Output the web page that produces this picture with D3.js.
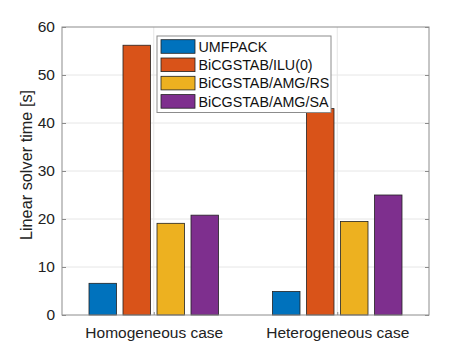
<!DOCTYPE html>
<html><head><meta charset="utf-8">
<script src="https://cdn.jsdelivr.net/npm/d3@7"></script>
<style>
html,body{margin:0;padding:0;background:#fff;}
text{font-family:"Liberation Sans",Arial,sans-serif;}
</style></head>
<body>
<svg id="c" width="474" height="355"></svg>
<script>
const categories = ["Homogeneous case", "Heterogeneous case"];
const seriesNames = ["UMFPACK", "BiCGSTAB/ILU(0)", "BiCGSTAB/AMG/RS", "BiCGSTAB/AMG/SA"];
const umfpack = [6.6, 4.9];
const ilu = [56.2, 43.0];
const amgRS = [19.1, 19.5];
const amgSA = [20.8, 25.0];
const yTicks = [0, 10, 20, 30, 40, 50, 60];
const colors = ["#0072BD", "#D95319", "#EDB120", "#7E2F8E"];

const series = [umfpack, ilu, amgRS, amgSA];
const svg = d3.select("#c");
const L = 62, R = 429, T = 27, B = 315;
const x = d3.scaleLinear().domain([0.5, 2.5]).range([L, R]);
const y = d3.scaleLinear().domain([0, 60]).range([B, T]);
const barW = 27.5, step = 34;

// grid
svg.append("g").selectAll("line").data(yTicks.slice(1, -1)).join("line")
  .attr("x1", L).attr("x2", R).attr("y1", d => y(d)).attr("y2", d => y(d))
  .attr("stroke", "#e6e6e6").attr("stroke-width", 1);
svg.append("g").selectAll("line").data([1, 2]).join("line")
  .attr("x1", d => x(d)).attr("x2", d => x(d)).attr("y1", T).attr("y2", B)
  .attr("stroke", "#e6e6e6").attr("stroke-width", 1);

// bars
series.forEach((vals, si) => {
  svg.append("g").selectAll("rect").data(vals).join("rect")
    .attr("x", (d, i) => x(i + 1) + (si - 1.5) * step - barW / 2)
    .attr("y", d => y(d))
    .attr("width", barW)
    .attr("height", d => B - y(d))
    .attr("fill", colors[si])
    .attr("stroke", "#222").attr("stroke-width", 0.8);
});

// axes
const axCol = "#8c8c8c";
const yAxis = d3.axisLeft(y).tickValues(yTicks).tickSize(-4).tickPadding(7);
const gy = svg.append("g").attr("transform", `translate(${L},0)`).call(yAxis);
gy.select(".domain").remove();
gy.selectAll("line").attr("stroke", axCol);
gy.selectAll("text").attr("font-size", 15.5).attr("fill", "#222").attr("font-family", "Liberation Sans, Arial, sans-serif");
const gyr = svg.append("g").attr("transform", `translate(${R},0)`).call(d3.axisRight(y).tickValues(yTicks).tickSize(-4).tickFormat(""));
gyr.select(".domain").remove();
gyr.selectAll("line").attr("stroke", axCol);

const xAxis = d3.axisBottom(x).tickValues([1, 2]).tickFormat((d) => categories[d - 1]).tickSize(-3).tickPadding(12);
const gx = svg.append("g").attr("transform", `translate(0,${B})`).call(xAxis);
gx.select(".domain").remove();
gx.selectAll("line").attr("stroke", axCol);
gx.selectAll("text").attr("font-size", 15.5).attr("fill", "#222").attr("font-family", "Liberation Sans, Arial, sans-serif");

svg.append("rect").attr("x", L).attr("y", T).attr("width", R - L).attr("height", B - T)
  .attr("fill", "none").attr("stroke", axCol).attr("stroke-width", 1);

// y label
svg.append("text").attr("transform", `translate(32,165) rotate(-90)`)
  .attr("text-anchor", "middle").attr("font-size", 16.3).attr("fill", "#222")
  .text("Linear solver time [s]");

// legend
const lg = svg.append("g");
lg.append("rect").attr("x", 157).attr("y", 36).attr("width", 174).attr("height", 76.5)
  .attr("fill", "#fff").attr("stroke", "#8c8c8c").attr("stroke-width", 1);
seriesNames.forEach((n, i) => {
  const cy = 46.5 + i * 18.3;
  lg.append("rect").attr("x", 161).attr("y", cy - 6.8).attr("width", 34).attr("height", 13.6)
    .attr("fill", colors[i]).attr("stroke", "#222").attr("stroke-width", 0.8);
  lg.append("text").attr("x", 198.5).attr("y", cy + 5.2).attr("font-size", 14.3).attr("fill", "#111").text(n);
});
</script>
</body></html>
